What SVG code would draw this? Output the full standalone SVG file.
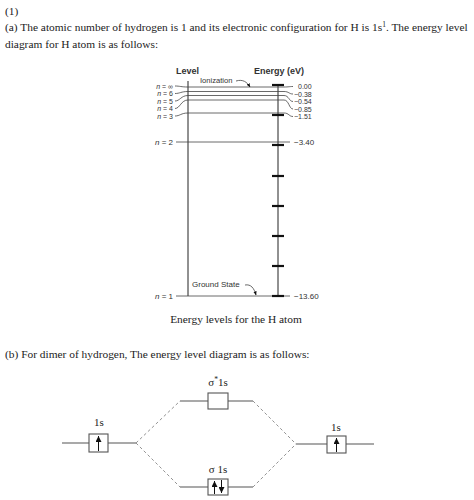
<svg xmlns="http://www.w3.org/2000/svg" width="474" height="500" viewBox="0 0 474 500">
<defs>
<style>
.serif{font-family:"Liberation Serif","Times New Roman",serif;fill:#222}
.sans{font-family:"Liberation Sans",Arial,sans-serif;fill:#333}
.ln{stroke:#222;stroke-width:1;fill:none}
.lv{stroke:#444;stroke-width:0.8;fill:none}
.tick{stroke:#111;stroke-width:2.2}
.mo{stroke:#555;stroke-width:1.2;fill:none}
.box{stroke:#555;stroke-width:1.1;fill:#fff}
.dash{stroke:#888;stroke-width:0.9;fill:none;stroke-dasharray:3,2.5}
.lab{font-size:8px}
.stk{font-size:7px}
.el{stroke:#111;stroke-width:1}
</style>
<marker id="ah" viewBox="0 0 10 10" refX="9" refY="5" markerWidth="5" markerHeight="5" orient="auto"><path d="M0,1 L10,5 L0,9 z" fill="#111"/></marker>
<marker id="sp" viewBox="0 0 10 10" refX="10" refY="5" markerWidth="8" markerHeight="6" orient="auto" markerUnits="userSpaceOnUse"><path d="M0,0 L10,5 L0,10 z" fill="#111"/></marker>
</defs>

<g id="text-a">
<text class="serif" x="5" y="15" font-size="11.4">(1)</text>
<text class="serif" x="5" y="31" font-size="11.4">(a) The atomic number of hydrogen is 1 and its electronic configuration for H is 1s<tspan font-size="7.5" dy="-4.5">1</tspan><tspan dy="4.5">. The energy level</tspan></text>
<text class="serif" x="5" y="48" font-size="11.4">diagram for H atom is as follows:</text>
</g>

<g id="energy-diagram">
<text class="sans" x="176" y="74" font-size="9" font-weight="bold">Level</text>
<text class="sans" x="254" y="74" font-size="9" font-weight="bold">Energy (eV)</text>
<line class="ln" x1="188" y1="81" x2="188" y2="296"/>
<line class="ln" x1="278" y1="85" x2="278" y2="296"/>

<g id="levels">
<path class="lv" d="M175,86 C180,86 181,87 188,87 L284,87 C289,87 289,86.5 293,86.5"/>
<path class="lv" d="M175,93.5 C180,93.5 181,91.5 188,91.5 L284,91.5 C289,91.5 289,94 293,94"/>
<path class="lv" d="M175,101 C180,101 181,95.5 188,95.5 L284,95.5 C289,95.5 289,101.5 293,101.5"/>
<path class="lv" d="M175,108.5 C180,108.5 181,100 188,100 L284,100 C289,100 289,109 293,109"/>
<path class="lv" d="M175,116 C180,116 181,113 188,113 L284,113 C289,113 289,116.5 293,116.5"/>
<line class="lv" x1="176" y1="142" x2="290" y2="142"/>
<line class="lv" x1="176" y1="296" x2="290" y2="296"/>
</g>

<g id="level-labels" class="sans" text-anchor="end">
<text class="stk" x="173" y="88.5"><tspan font-style="italic">n</tspan> = ∞</text>
<text class="stk" x="173" y="96"><tspan font-style="italic">n</tspan> = 6</text>
<text class="stk" x="173" y="103.5"><tspan font-style="italic">n</tspan> = 5</text>
<text class="stk" x="173" y="111"><tspan font-style="italic">n</tspan> = 4</text>
<text class="stk" x="173" y="118.5"><tspan font-style="italic">n</tspan> = 3</text>
<text class="lab" x="173" y="145"><tspan font-style="italic">n</tspan> = 2</text>
<text class="lab" x="173" y="299"><tspan font-style="italic">n</tspan> = 1</text>
</g>
<g id="energy-labels" class="sans">
<text class="stk" x="298" y="89">0.00</text>
<text class="stk" x="294" y="96.5">−0.38</text>
<text class="stk" x="294" y="104">−0.54</text>
<text class="stk" x="294" y="111.5">−0.85</text>
<text class="stk" x="294" y="119">−1.51</text>
<text class="lab" x="294" y="145">−3.40</text>
<text class="lab" x="294" y="299">−13.60</text>
</g>

<g id="ticks">
<line class="tick" x1="272" y1="85" x2="284" y2="85"/>
<line class="tick" x1="272" y1="115" x2="284" y2="115"/>
<line class="tick" x1="272" y1="145" x2="284" y2="145"/>
<line class="tick" x1="272" y1="176" x2="284" y2="176"/>
<line class="tick" x1="272" y1="206" x2="284" y2="206"/>
<line class="tick" x1="272" y1="236" x2="284" y2="236"/>
<line class="tick" x1="272" y1="266" x2="284" y2="266"/>
<line class="tick" x1="272" y1="296" x2="284" y2="296"/>
</g>

<g id="ionization">
<text class="sans" x="200" y="83" font-size="7.6">Ionization</text>
<path class="lv" d="M236,81 C243,79 247,82 250,87" marker-end="url(#ah)"/>
</g>
<g id="ground-state">
<text class="sans lab" x="192" y="287">Ground State</text>
<path class="lv" d="M245,285 C251,284 254,288 256,295" marker-end="url(#ah)"/>
</g>

<text class="serif" x="236" y="323" font-size="11.4" text-anchor="middle">Energy levels for the H atom</text>
</g>

<text id="text-b" class="serif" x="5" y="358" font-size="11.4">(b) For dimer of hydrogen, The energy level diagram is as follows:</text>

<g id="connectors">
<path class="dash" d="M136,443 L180,401"/>
<path class="dash" d="M136,443 L180,487"/>
<path class="dash" d="M253,401 L296,444"/>
<path class="dash" d="M253,487 L296,444"/>
</g>

<g id="h1s-left">
<line class="mo" x1="62" y1="443" x2="136" y2="443"/>
<rect class="box" x="89" y="434" width="19" height="18"/>
<line class="el" x1="98.5" y1="451" x2="98.5" y2="436" marker-end="url(#sp)"/>
<text class="serif" x="99" y="426" font-size="11" text-anchor="middle">1s</text>
</g>

<g id="sigma-star">
<line class="mo" x1="180" y1="401" x2="253" y2="401"/>
<rect class="box" x="208" y="393" width="20" height="16"/>
<text class="serif" x="218" y="386" font-size="11" text-anchor="middle">σ<tspan font-size="7.5" dy="-4.5">*</tspan><tspan dy="4.5">1s</tspan></text>
</g>

<g id="sigma">
<line class="mo" x1="180" y1="487" x2="253" y2="487"/>
<rect class="box" x="208" y="479" width="20" height="16"/>
<line class="el" x1="214.5" y1="494" x2="214.5" y2="481" marker-end="url(#sp)"/>
<line class="el" x1="221.5" y1="480" x2="221.5" y2="493" marker-end="url(#sp)"/>
<text class="serif" x="218" y="473" font-size="11" text-anchor="middle">σ 1s</text>
</g>

<g id="h1s-right">
<line class="mo" x1="296" y1="444" x2="374" y2="444"/>
<rect class="box" x="327" y="436" width="19" height="17"/>
<line class="el" x1="336.5" y1="452" x2="336.5" y2="438" marker-end="url(#sp)"/>
<text class="serif" x="336" y="431" font-size="11" text-anchor="middle">1s</text>
</g>
</svg>
